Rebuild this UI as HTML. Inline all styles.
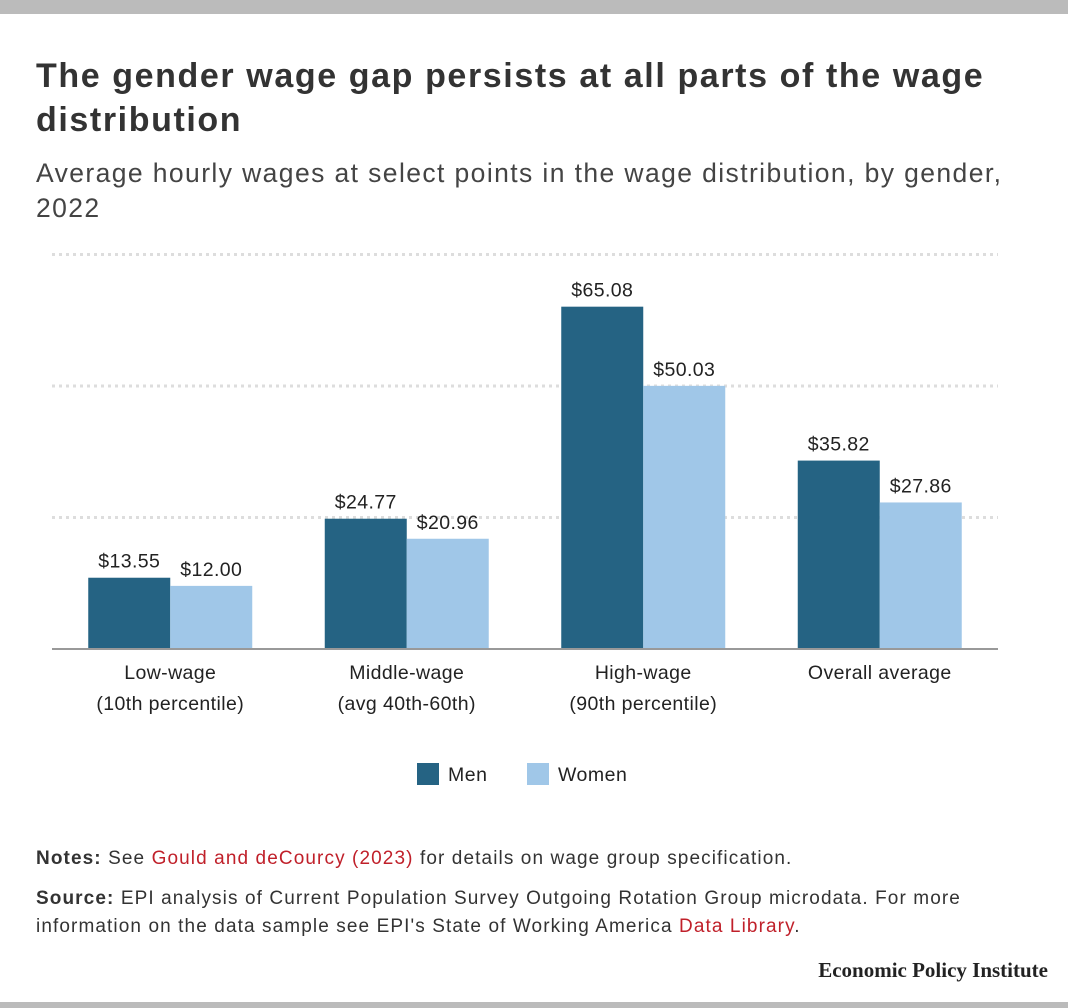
<!DOCTYPE html>
<html><head><meta charset="utf-8"><style>
body{margin:0;width:1068px;height:1008px;background:#fff;font-family:"Liberation Sans",sans-serif;position:relative;overflow:hidden;color:#333}
.bar{position:absolute;left:0;width:1068px;background:#bbb}
#title{position:absolute;left:36px;top:54px;width:1030px;font-size:34px;letter-spacing:1.6px;font-weight:bold;line-height:44px;color:#333;white-space:nowrap}
#sub{position:absolute;left:36px;top:156px;width:1030px;font-size:26.5px;letter-spacing:1.4px;line-height:35px;color:#444;white-space:nowrap}
.notes{position:absolute;left:36px;font-size:19px;letter-spacing:1.1px;line-height:28px;color:#333;width:1030px;white-space:nowrap}
.notes a{color:#c0202a;text-decoration:none}
#logo{position:absolute;right:20px;top:958px;font-family:"Liberation Serif",serif;font-weight:bold;font-size:21px;color:#222}
</style></head><body>
<div class="bar" style="top:0;height:14px"></div>
<div class="bar" style="top:1002px;height:6px"></div>
<div id="title">The gender wage gap persists at all parts of the wage<br>distribution</div>
<div id="sub">Average hourly wages at select points in the wage distribution, by gender,<br>2022</div>
<svg id="chart" width="1068" height="800" style="position:absolute;left:0;top:0"></svg>
<div class="notes" style="top:845px"><b>Notes:</b> See <a href="#">Gould and deCourcy (2023)</a> for details on wage group specification.</div>
<div class="notes" style="top:885px"><b>Source:</b> EPI analysis of Current Population Survey Outgoing Rotation Group microdata. For more<br>information on the data sample see EPI's State of Working America <a href="#">Data Library</a>.</div>
<div id="logo">Economic Policy Institute</div>
<script>
const categories=[["Low-wage","(10th percentile)"],["Middle-wage","(avg 40th-60th)"],["High-wage","(90th percentile)"],["Overall average",""]];
const men=[13.55,24.77,65.08,35.82];
const women=[12.00,20.96,50.03,27.86];
const gridTicks=[25,50,75];
const seriesNames=["Men","Women"];
const colors=["#256383","#a0c7e8"];
const NS="http://www.w3.org/2000/svg";
const svg=document.getElementById("chart");
const x0=52,x1=998,y0=649,pxPer=5.26;
const y=v=>y0-v*pxPer;
const band=(x1-x0)/categories.length;
const cx=i=>x0+band*(i+0.5);
const bw=82;
function mk(t,a){const e=document.createElementNS(NS,t);for(const k in a)e.setAttribute(k,a[k]);svg.appendChild(e);return e;}
gridTicks.forEach(t=>{
  const l=mk("line",{x1:x0,x2:x1,y1:y(t),y2:y(t),stroke:"#ddd","stroke-width":3,"stroke-dasharray":"3,4"});
  
  
});
[men,women].forEach((s,si)=>{
  s.forEach((v,i)=>{
    const bx=cx(i)-bw+si*bw;
    const r=mk("rect",{x:bx,y:y(v),width:bw,height:v*pxPer,fill:colors[si]});
    
    
    const t=mk("text",{x:bx+bw/2,y:y(v)-10,"text-anchor":"middle","font-size":19.5,"letter-spacing":0.4,fill:"#222"});
    t.textContent="$"+v.toFixed(2);
    
    
  });
});
const ax=mk("line",{x1:x0,x2:x1,y1:y0,y2:y0,stroke:"#999","stroke-width":2});


categories.forEach((c,i)=>{
  c.forEach((ln,j)=>{
    const t=mk("text",{x:cx(i),y:679+j*31,"text-anchor":"middle","font-size":19.5,"letter-spacing":0.4,fill:"#222"});
    t.textContent=ln;
    
    
  });
});
[[417,"Men"],[527,"Women"]].forEach((p,si)=>{
  const r=mk("rect",{x:p[0],y:763,width:22,height:22,fill:colors[si]});
  
  
  const t=mk("text",{x:p[0]+31,y:781,"font-size":19.5,"letter-spacing":0.5,fill:"#222"});
  t.textContent=p[1];
  
  
});
</script>
</body></html>
